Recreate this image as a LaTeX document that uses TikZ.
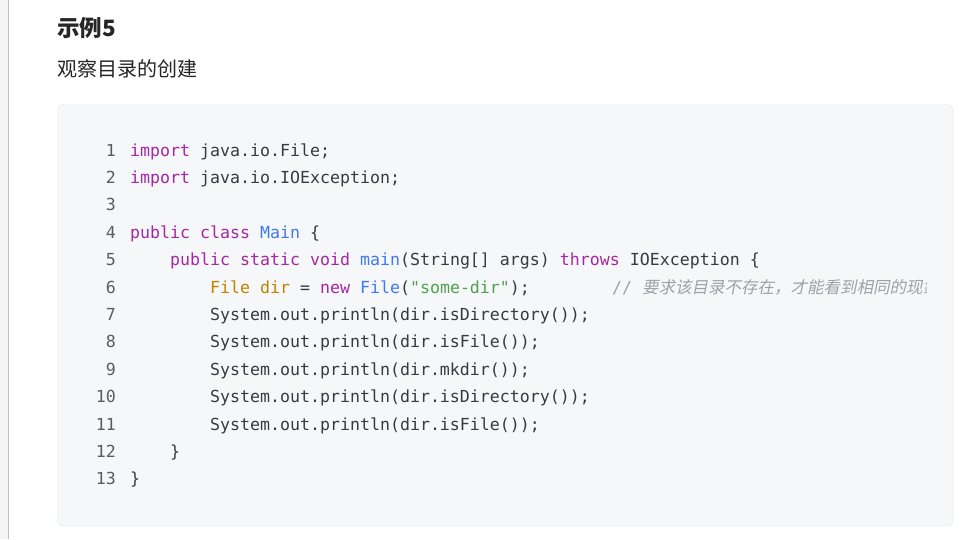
\documentclass[tikz,border=0pt]{standalone}
\usepackage{fontspec}
\setmainfont{Noto Sans CJK SC}
\newfontfamily\cjk{Noto Sans CJK SC}
\newfontfamily\cjkit[FakeSlant=0.2]{Noto Sans CJK SC}
\setmonofont{DejaVu Sans Mono}
\definecolor{kw}{HTML}{A626A4}
\definecolor{fn}{HTML}{4078F2}
\definecolor{ty}{HTML}{C18401}
\definecolor{st}{HTML}{50A14F}
\definecolor{cm}{HTML}{A0A1A7}
\definecolor{tx}{HTML}{383A42}
\definecolor{ln}{HTML}{5C5C5C}
\definecolor{bg}{HTML}{F6F7F9}
\definecolor{bd}{HTML}{E3E5E8}
\newcommand{\K}[1]{\textcolor{kw}{#1}}
\newcommand{\F}[1]{\textcolor{fn}{#1}}
\newcommand{\T}[1]{\textcolor{ty}{#1}}
\newcommand{\Sg}[1]{\textcolor{st}{#1}}
\begin{document}
\begin{tikzpicture}[x=1pt,y=-1pt,
  code/.style={anchor=base west,inner sep=0pt,font=\ttfamily\fontsize{16.6}{20}\selectfont,text=tx},
  num/.style={anchor=base east,inner sep=0pt,font=\ttfamily\fontsize{16.6}{20}\selectfont,text=ln}]
\useasboundingbox (0,0) rectangle (966,539);
\fill[white] (0,0) rectangle (966,539);
\fill[black!4] (0,0) rectangle (8,539);
\draw[black!25,line width=1pt] (8.5,0) -- (8.5,539);
\node[anchor=base west,inner sep=0pt,font=\cjk\bfseries\fontsize{22.5}{26}\selectfont,text=black!85] (title) at (57,36) {示例5};
\node[anchor=base west,inner sep=0pt,font=\cjk\fontsize{20}{24}\selectfont,text=black!85] (sub) at (57,76) {观察目录的创建};
\draw[fill=bg,draw=bd,rounded corners=6pt] (57.5,104.5) rectangle (953,526);
\foreach \i in {1,...,13} \node[num] (n\i) at (116,156+27.4*\i-27.4) {\i};
\node[code] (l1) at (130,156) {\K{import} java.io.File;};
\node[code] (l2) at (130,183.4) {\K{import} java.io.IOException;};
\node[code] (l4) at (130,238.2) {\K{public} \K{class} \F{Main} \{};
\node[code] (l5) at (130,265.6) {\ \ \ \ \K{public} \K{static} \K{void} \F{main}(String[] args) \K{throws} IOException \{};
\node[code] (l6) at (130,293) {\ \ \ \ \ \ \ \ \T{File} \T{dir} = \K{new} \F{File}(\Sg{"some-dir"});};
\begin{scope}
\clip (600,270) rectangle (926,300);
\node[anchor=base west,inner sep=0pt,text=cm] (c6) at (612,293) {{\ttfamily\fontsize{16.6}{20}\selectfont // }{\cjkit\fontsize{16.5}{20}\selectfont 要求该目录不存在，才能看到相同的现象}};
\end{scope}
\node[code] (l7) at (130,320.4) {\ \ \ \ \ \ \ \ System.out.println(dir.isDirectory());};
\node[code] (l8) at (130,347.8) {\ \ \ \ \ \ \ \ System.out.println(dir.isFile());};
\node[code] (l9) at (130,375.2) {\ \ \ \ \ \ \ \ System.out.println(dir.mkdir());};
\node[code] (l10) at (130,402.6) {\ \ \ \ \ \ \ \ System.out.println(dir.isDirectory());};
\node[code] (l11) at (130,430) {\ \ \ \ \ \ \ \ System.out.println(dir.isFile());};
\node[code] (l12) at (130,457.4) {\ \ \ \ \}};
\node[code] (l13) at (130,484.8) {\}};
\end{tikzpicture}
\end{document}
